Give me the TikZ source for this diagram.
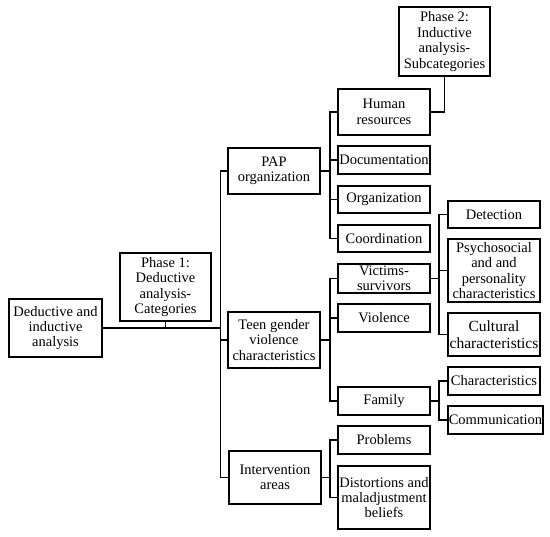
\documentclass[tikz,border=0pt]{standalone}
\usepackage{fontspec}
\setmainfont{Liberation Serif}
\begin{document}
\begin{tikzpicture}[x=1pt,y=-1pt,
  bx/.style={draw,line width=1.1pt,inner sep=0pt,align=center,
    font=\fontsize{14.5}{15.4}\selectfont,minimum width=92pt},
  ln/.style={line width=1.1pt}]
\useasboundingbox (0,0) rectangle (550,537);
% level 0 and phases
\node[bx,minimum width=93pt,minimum height=58pt] (root) at (55.5,328) {Deductive and\\inductive\\analysis};
\node[bx,minimum width=91pt,minimum height=68pt] (phaseone) at (165.5,287) {Phase 1:\\Deductive\\analysis-\\Categories};
\node[bx,minimum width=91pt,minimum height=69pt] (phasetwo) at (444.5,41.5) {Phase 2:\\Inductive\\analysis-\\Subcategories};
% categories
\node[bx,minimum height=46pt] (pap) at (274,171) {PAP\\organization};
\node[bx,minimum height=56pt] (teen) at (274,340) {Teen gender\\violence\\characteristics};
\node[bx,minimum height=53pt] (interv) at (275,477.5) {Intervention\\areas};
% subcategories
\node[bx,minimum height=46pt] (hr) at (384,112) {Human\\resources};
\node[bx,minimum height=28pt] (doc) at (384,160) {Documentation};
\node[bx,minimum height=27pt] (org) at (384,199.5) {Organization};
\node[bx,minimum height=27pt] (coord) at (384,238.5) {Coordination};
\node[bx,minimum height=29pt] (vict) at (384,278.5) {Victims-\\survivors};
\node[bx,minimum height=28pt] (viol) at (384,318) {Violence};
\node[bx,minimum height=28pt] (family) at (384,401) {Family};
\node[bx,minimum height=28pt] (prob) at (384,440) {Problems};
\node[bx,minimum height=63pt] (dist) at (384,497.5) {Distortions and\\maladjustment\\beliefs};
\node[bx,minimum height=27pt] (det) at (494,214.5) {Detection};
\node[bx,minimum height=63pt] (psy) at (494,270.5) {Psychosocial\\and and\\personality\\characteristics};
\node[bx,minimum height=43pt,font=\fontsize{15.5}{16.5}\selectfont] (cult) at (494,334.5) {Cultural\\characteristics};
\node[bx,minimum height=28pt] (char) at (494,381) {Characteristics};
\node[bx,minimum width=95pt,minimum height=28pt] (comm) at (495.5,420) {Communication};
% bus coordinates
\coordinate (tone) at (220.5,172);
\coordinate (bone) at (330,0);
\coordinate (btwo) at (439,0);
% connectors level 1
\draw[ln] (pap.west) -- (pap.west -| tone) |- (interv.west);
\draw[ln] (root.east) -- (root.east -| tone);
\draw[ln] (teen.west) -- (teen.west -| tone);
\draw[ln] (phaseone.south) -- (phaseone.south |- root.east);
% PAP children
\draw[ln] (hr.west) -- (hr.west -| bone) |- (coord.west);
\draw[ln] (pap.east) -- (pap.east -| bone);
\draw[ln] (doc.west) -- (doc.west -| bone);
\draw[ln] (org.west) -- (org.west -| bone);
\draw[ln] (phasetwo.south) |- (hr.east);
% Teen children
\draw[ln] (vict.west) -- (vict.west -| bone) |- (family.west);
\draw[ln] (teen.east) -- (teen.east -| bone);
\draw[ln] (viol.west) -- (viol.west -| bone);
% Intervention children
\draw[ln] (prob.west) -- (prob.west -| bone) |- (dist.west);
\draw[ln] (interv.east) -- (interv.east -| bone);
% Victims children
\draw[ln] (det.west) -- (det.west -| btwo) |- (cult.west);
\draw[ln] (vict.east) -- (vict.east -| btwo);
\draw[ln] (psy.west) -- (psy.west -| btwo);
% Family children
\draw[ln] (char.west) -- (char.west -| btwo) |- (comm.west);
\draw[ln] (family.east) -- (family.east -| btwo);
\end{tikzpicture}
\end{document}
